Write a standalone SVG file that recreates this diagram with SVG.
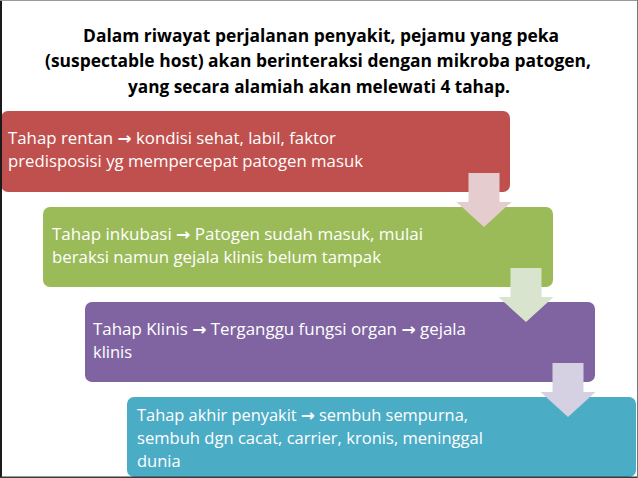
<svg xmlns="http://www.w3.org/2000/svg" width="638" height="478" viewBox="0 0 638 478">
<style>
.title{font-family:"Open Sans","DejaVu Sans",sans-serif;font-weight:bold;font-size:17.5px;fill:#000;text-anchor:middle}
.lbl{font-family:"Open Sans","DejaVu Sans",sans-serif;font-size:16.5px;fill:#fff}
.ar{font-family:"DejaVu Sans",sans-serif;font-weight:bold}
</style>
<rect x="0" y="0" width="638" height="478" fill="#fff"/>
<g id="title">
<text class="title" x="321" y="42" textLength="476" lengthAdjust="spacingAndGlyphs">Dalam riwayat perjalanan penyakit, pejamu yang peka</text>
<text class="title" x="318" y="67" textLength="546" lengthAdjust="spacingAndGlyphs">(suspectable host) akan berinteraksi dengan mikroba patogen,</text>
<text class="title" x="319" y="93" textLength="382" lengthAdjust="spacingAndGlyphs">yang secara alamiah akan melewati 4 tahap.</text>
</g>
<g id="node1">
<rect x="1" y="111" width="509" height="81" rx="7" fill="#C0504D"/>
<text class="lbl" x="8" y="144" textLength="328" lengthAdjust="spacingAndGlyphs">Tahap rentan <tspan class="ar">→</tspan> kondisi sehat, labil, faktor</text>
<text class="lbl" x="8" y="166.5" textLength="355" lengthAdjust="spacingAndGlyphs">predisposisi yg mempercepat patogen masuk</text>
</g>
<g id="node2">
<rect x="43" y="207" width="510" height="80" rx="7" fill="#9BBB59"/>
<text class="lbl" x="52" y="240" textLength="371" lengthAdjust="spacingAndGlyphs">Tahap inkubasi <tspan class="ar">→</tspan> Patogen sudah masuk, mulai</text>
<text class="lbl" x="52" y="262.5" textLength="329" lengthAdjust="spacingAndGlyphs">beraksi namun gejala klinis belum tampak</text>
</g>
<g id="node3">
<rect x="85" y="302" width="510" height="80" rx="7" fill="#8064A2"/>
<text class="lbl" x="93" y="335" textLength="373" lengthAdjust="spacingAndGlyphs">Tahap Klinis <tspan class="ar">→</tspan> Terganggu fungsi organ <tspan class="ar">→</tspan> gejala</text>
<text class="lbl" x="93" y="357.5">klinis</text>
</g>
<g id="node4">
<rect x="127" y="397" width="509" height="80" rx="7" fill="#4BACC6"/>
<text class="lbl" x="137" y="421" textLength="331" lengthAdjust="spacingAndGlyphs">Tahap akhir penyakit <tspan class="ar">→</tspan> sembuh sempurna,</text>
<text class="lbl" x="137" y="444" textLength="346" lengthAdjust="spacingAndGlyphs">sembuh dgn cacat, carrier, kronis, meninggal</text>
<text class="lbl" x="137" y="467">dunia</text>
</g>
<g id="connectors">
<polygon points="468.5,173 499.5,173 499.5,202 511.5,202 484,227 456.5,202 468.5,202" fill="#E5CCCF"/>
<polygon points="510.5,268 541.5,268 541.5,297 553.5,297 526,322 498.5,297 510.5,297" fill="#D8E4CE"/>
<polygon points="552.5,363 583.5,363 583.5,392 595.5,392 568,417 540.5,392 552.5,392" fill="#D5D0E2"/>
</g>
<g id="frame" fill="none">
<line x1="1" y1="0" x2="1" y2="478" stroke="#1a1a1a" stroke-width="2"/>
<line x1="0" y1="0.5" x2="638" y2="0.5" stroke="#999" stroke-width="1"/>
<line x1="0" y1="477.3" x2="638" y2="477.3" stroke="#3a3a3a" stroke-width="1.5"/>
<line x1="637.5" y1="0" x2="637.5" y2="478" stroke="#777" stroke-width="1"/>
</g>
</svg>
